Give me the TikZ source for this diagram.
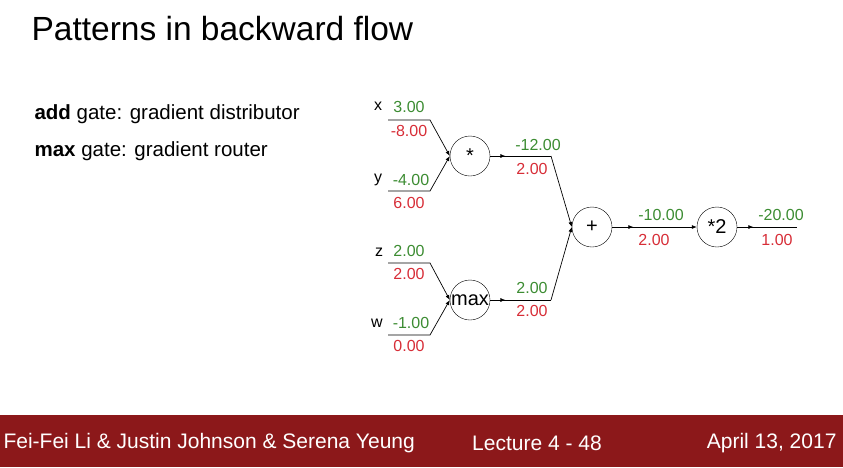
\documentclass[tikz,border=0pt]{standalone}
\usepackage{fontspec}
\setmainfont{Liberation Sans}
\usetikzlibrary{arrows.meta, decorations.markings}
\definecolor{valgreen}{RGB}{60,140,50}
\definecolor{gradred}{RGB}{215,45,55}
\definecolor{banner}{RGB}{140,24,26}
\begin{document}
\begin{tikzpicture}[x=1pt, y=-1pt,
    gate/.style={draw, circle, minimum size=40pt, inner sep=0pt, font=\fontsize{20}{20}\selectfont},
    val/.style={text=valgreen, font=\fontsize{16}{16}\selectfont, inner sep=0pt},
    grad/.style={text=gradred, font=\fontsize{16}{16}\selectfont, inner sep=0pt},
    var/.style={font=\fontsize{16}{16}\selectfont, inner sep=0pt},
    wire/.style={line width=0.7pt, -{Latex[length=5pt,width=4pt]}},
    midarrow/.style={line width=0.7pt, postaction={decorate}, decoration={markings,
        mark=at position #1 with {\arrow{Latex[length=5pt,width=4pt]}}}}]
    \useasboundingbox (0,0) rectangle (843,467);
    
    % Slide title and notes
    \node[anchor=west, font=\fontsize{33.5}{34}\selectfont] (title) at (28,29) {Patterns in backward flow};
    \node[anchor=west, font=\fontsize{20.5}{21}\selectfont] (addnote) at (31,114) {\textbf{add} gate: gradient distributor};
    \node[anchor=west, font=\fontsize{20.5}{21}\selectfont] (maxnote) at (31,151) {\textbf{max} gate: gradient router};
    
    % Gates
    \node[gate] (mul) at (470,156) {*};
    \node[gate] (maxg) at (470,300) {max};
    \node[gate] (plus) at (592,227) {+};
    \node[gate] (dbl) at (717,227) {*2};
    
    % Input wires
    \coordinate (xs) at (388,120); \coordinate (xe) at (430,120);
    \coordinate (ys) at (388,191); \coordinate (ye) at (430,191);
    \coordinate (zs) at (388,263); \coordinate (ze) at (430,263);
    \coordinate (ws) at (388,335); \coordinate (we) at (430,335);
    \draw[wire] (xs) -- (xe) -- (mul.west);
    \draw[wire] (ys) -- (ye) -- (mul.west);
    \draw[wire] (zs) -- (ze) -- (maxg.west);
    \draw[wire] (ws) -- (we) -- (maxg.west);
    
    % Inner wires
    \coordinate (me) at (551,156);
    \coordinate (xe2) at (551,300);
    \coordinate (oe) at (797,227);
    \draw[midarrow=0.25] (mul.east) -- (me);
    \draw[wire] (me) -- (plus.west);
    \draw[midarrow=0.25] (maxg.east) -- (xe2);
    \draw[wire] (xe2) -- (plus.west);
    \draw[midarrow=0.25, wire] (plus.east) -- (dbl.west);
    \draw[midarrow=0.27] (dbl.east) -- (oe);
    
    % Variable names
    \node[var] (xl) at (378,106) {x};
    \node[var] (yl) at (378,180) {y};
    \node[var] (zl) at (379,252) {z};
    \node[var] (wl) at (377,323) {w};
    
    % Values and gradients
    \node[val] (xv) at (409,107) {3.00};   \node[grad] (xg) at (409,131) {-8.00};
    \node[val] (yv) at (411,180) {-4.00};  \node[grad] (yg) at (409,203) {6.00};
    \node[val] (zv) at (409,251) {2.00};   \node[grad] (zg) at (409,274) {2.00};
    \node[val] (wv) at (411,323) {-1.00};  \node[grad] (wg) at (409,346) {0.00};
    \node[val] (mv) at (538,145) {-12.00}; \node[grad] (mg) at (532,169) {2.00};
    \node[val] (av) at (532,288) {2.00};   \node[grad] (ag) at (532,311) {2.00};
    \node[val] (pv) at (661,215) {-10.00}; \node[grad] (pg) at (654,240) {2.00};
    \node[val] (dv) at (781,215) {-20.00}; \node[grad] (dg) at (777,240) {1.00};
    
    % Footer banner
    \fill[banner] (0,415) rectangle (843,467);
    \node[anchor=west, text=white, font=\fontsize{21}{21}\selectfont] (authors) at (0,443) {Fei-Fei Li \& Justin Johnson \& Serena Yeung};
    \node[text=white, font=\fontsize{21}{21}\selectfont] (lecture) at (537,443) {Lecture 4 - 48};
    \node[anchor=east, text=white, font=\fontsize{21}{21}\selectfont] (date) at (840,443) {April 13, 2017};
\end{tikzpicture}
\end{document}
